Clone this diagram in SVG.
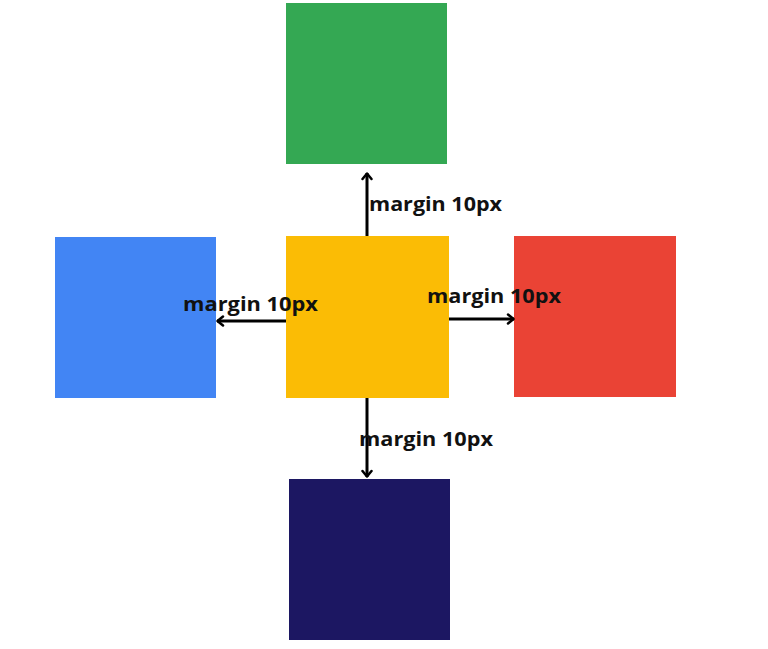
<svg xmlns="http://www.w3.org/2000/svg" width="768" height="649" viewBox="0 0 768 649">
<defs>
<style>
.lbl{font-family:"Open Sans","Liberation Sans",sans-serif;font-weight:bold;font-size:20px;fill:#111}
.conn{stroke:#000;stroke-width:3;fill:none}
.head{stroke:#000;stroke-width:3;fill:none;stroke-linecap:round;stroke-linejoin:round}
</style>
<marker id="arr" viewBox="0 0 10 12" refX="9" refY="6" markerWidth="10" markerHeight="12" markerUnits="userSpaceOnUse" orient="auto">
<polyline class="head" points="3,1.5 8.5,6 3,10.5" style="stroke-width:2.5"/>
</marker>
</defs>
<rect width="768" height="649" fill="#fff"/>
<g id="green"><rect x="286" y="3" width="161" height="161" fill="#34a853"/></g>
<g id="blue"><rect x="55" y="237" width="161" height="161" fill="#4285f4"/></g>
<g id="yellow"><rect x="286" y="236" width="163" height="162" fill="#fbbc05"/></g>
<g id="red"><rect x="514" y="236" width="162" height="161" fill="#ea4335"/></g>
<g id="navy"><rect x="289" y="479" width="161" height="161" fill="#1c1762"/></g>
<g id="connectors">
<line class="conn" x1="367" y1="236" x2="367" y2="173" marker-end="url(#arr)"/>
<line class="conn" x1="286" y1="321" x2="217" y2="321" marker-end="url(#arr)"/>
<line class="conn" x1="449" y1="319" x2="514" y2="319" marker-end="url(#arr)"/>
<line class="conn" x1="367" y1="398" x2="367" y2="477" marker-end="url(#arr)"/>
</g>
<g id="labels">
<text class="lbl" x="369" y="211" textLength="133" lengthAdjust="spacingAndGlyphs">margin 10px</text>
<text class="lbl" x="183" y="311" textLength="135" lengthAdjust="spacingAndGlyphs">margin 10px</text>
<text class="lbl" x="427" y="302.5" textLength="134" lengthAdjust="spacingAndGlyphs">margin 10px</text>
<text class="lbl" x="359" y="446" textLength="134" lengthAdjust="spacingAndGlyphs">margin 10px</text>
</g>
</svg>
